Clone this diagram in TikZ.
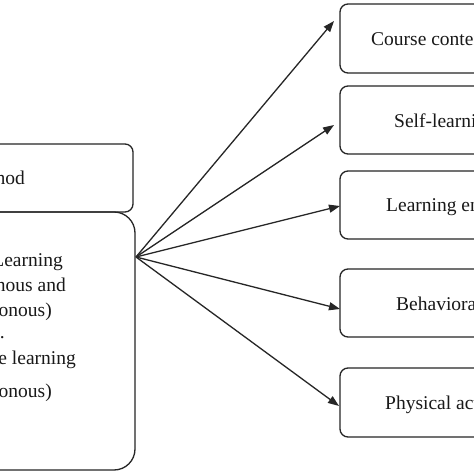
\documentclass[tikz,border=0pt]{standalone}
\usepackage{fontspec}
\setmainfont{Liberation Serif}
\usetikzlibrary{arrows.meta}
\begin{document}
\begin{tikzpicture}[x=1pt,y=1pt,
  boxline/.style={draw=black!85,line width=1.3pt},
  rbox/.style={boxline,rounded corners=8pt},
  conn/.style={draw=black!85,line width=1.3pt,-{Triangle[length=11pt,width=8pt]}},
  txt/.style={inner sep=0pt,font=\fontsize{19.5}{24}\selectfont,text=black!90}]
\useasboundingbox (0,0) rectangle (474,474);
\clip (0,0) rectangle (474,474);
\fill[white] (0,0) rectangle (474,474);
% left boxes
\draw[rbox] (-30,262) rectangle (133,330);
\draw[boxline,rounded corners=21pt] (-30,262) -- (135,262) -- (135,4) -- (-30,4);
\node[txt,anchor=base east] (tm) at (25,289) {Teaching method};
\node[txt,anchor=base east] (l1) at (63,207) {E-Learning};
\node[txt,anchor=base east] (l2) at (66,182) {(synchronous and};
\node[txt,anchor=base east] (l3) at (52,157) {asynchronous)};
\node[txt,anchor=base east] (l4) at (5,135) {2.};
\node[txt,anchor=base east] (l5) at (76,109) {Face-to-face learning};
\node[txt,anchor=base east] (l6) at (52,76) {(synchronous)};
% right boxes
\draw[rbox] (340,401) rectangle (520,470);
\draw[rbox] (340,320) rectangle (520,388);
\draw[rbox] (340,235) rectangle (520,303);
\draw[rbox] (340,137) rectangle (520,205);
\draw[rbox] (340,37) rectangle (520,106);
\node[txt,anchor=base west] (r1) at (371,428) {Course content};
\node[txt,anchor=base west] (r2) at (394,346) {Self-learning};
\node[txt,anchor=base west] (r3) at (386,262) {Learning environment};
\node[txt,anchor=base west] (r4) at (396,163) {Behavioral engagement};
\node[txt,anchor=base west] (r5) at (385,64) {Physical activity};
% connectors
\coordinate (src) at (136,217);
\coordinate (e1) at (334,453);
\coordinate (e2) at (334,349);
\coordinate (e3) at (340,268);
\coordinate (e4) at (340,165);
\coordinate (e5) at (339,68);
\foreach \e in {e1,e2,e3,e4,e5} \draw[conn] (src) -- (\e);
\end{tikzpicture}
\end{document}
